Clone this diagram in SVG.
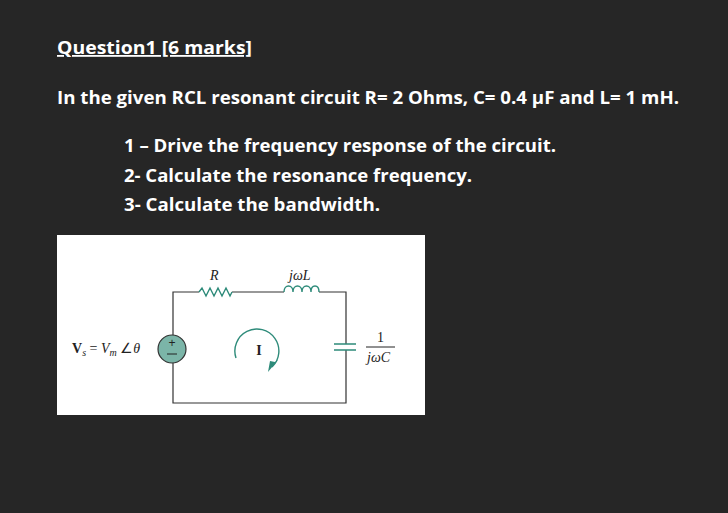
<svg xmlns="http://www.w3.org/2000/svg" width="728" height="513" viewBox="0 0 728 513">
<style>
.t{font-family:"Open Sans","Liberation Sans",sans-serif;font-weight:bold;fill:#fff;font-size:18px}
.s{font-family:"Liberation Serif",serif;font-style:italic;fill:#222;font-size:14px}
.w{fill:none;stroke:#333;stroke-width:1.2}
.g{fill:none;stroke:#2e8b7a;stroke-width:1.4}
</style>
<rect width="728" height="513" fill="#262626"/>
<g id="text">
<text class="t" x="57" y="54" textLength="195" lengthAdjust="spacingAndGlyphs" text-decoration="underline">Question1 [6 marks]</text>
<text class="t" x="57" y="104" textLength="622" lengthAdjust="spacingAndGlyphs">In the given RCL resonant circuit R= 2 Ohms, C= 0.4 µF and L= 1 mH.</text>
<text class="t" x="124" y="152" textLength="432" lengthAdjust="spacingAndGlyphs">1 – Drive the frequency response of the circuit.</text>
<text class="t" x="124" y="182" textLength="348" lengthAdjust="spacingAndGlyphs">2- Calculate the resonance frequency.</text>
<text class="t" x="124" y="211" textLength="256" lengthAdjust="spacingAndGlyphs">3- Calculate the bandwidth.</text>
</g>
<rect x="57" y="235" width="368" height="180" fill="#fff"/>
<g id="connectors">
<path class="w" d="M199 292H173V335M173 363V403H346V350M346 344V292H319M284 292H232"/>
</g>
<g id="resistor"><path class="g" d="M199 292l3 -4l4 8l4 -8l4 8l4 -8l4 8l4 -8l4 8l2 -4"/><text class="s" x="210" y="280">R</text></g>
<g id="inductor"><path class="g" d="M284 292c0-8 9-8 9 0c0-8 9-8 9 0c0-8 9-8 9 0c0-8 8-8 8 0"/><text class="s" x="289" y="280">jωL</text></g>
<g id="capacitor"><path class="g" d="M334 344H356M334 350H356"/>
<text class="s" x="377" y="342" style="font-style:normal">1</text><line x1="366" y1="347" x2="395" y2="347" stroke="#222"/><text class="s" x="367" y="362">jωC</text></g>
<g id="source"><circle cx="172" cy="349" r="14" fill="#7bb5a8" stroke="#333" stroke-width="1.2"/>
<text x="172" y="347" text-anchor="middle" font-family="Liberation Sans" font-size="12" fill="#222">+</text>
<line x1="167" y1="354" x2="177" y2="354" stroke="#222"/>
<text x="72" y="353" font-family="Liberation Serif" font-size="14" fill="#222"><tspan font-weight="bold">V</tspan><tspan font-style="italic" font-size="10" dy="3">s</tspan><tspan dy="-3"> = </tspan><tspan font-style="italic">V</tspan><tspan font-style="italic" font-size="10" dy="3">m</tspan><tspan dy="-3"> ∠</tspan><tspan font-style="italic">θ</tspan></text></g>
<g id="loop"><path class="g" d="M236 358A22 22 0 1 1 272 367"/><path d="M268 372l10-12l-3 2l-5-1z" fill="#2e8b7a"/>
<text x="259" y="355" text-anchor="middle" font-family="Liberation Serif" font-weight="bold" font-size="14" fill="#222">I</text></g>
</svg>
